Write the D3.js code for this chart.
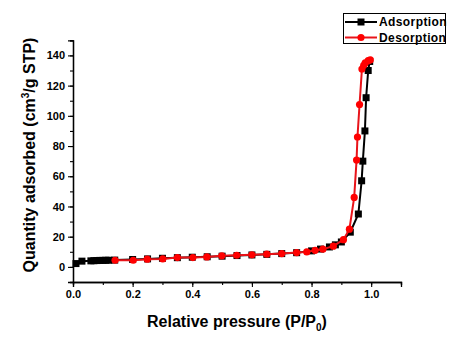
<!DOCTYPE html>
<html><head><meta charset="utf-8">
<script src="https://cdn.jsdelivr.net/npm/d3@7"></script>
<style>body{margin:0;background:#fff}svg{display:block}text{font-family:"Liberation Sans",Arial,sans-serif;font-weight:bold}</style>
</head><body><svg id="c" width="453" height="340"></svg>
<script>
const adsP = [0.010,0.030,0.060,0.070,0.080,0.090,0.100,0.110,0.120,0.140,0.200,0.250,0.300,0.350,0.400,0.450,0.500,0.550,0.600,0.650,0.700,0.750,0.800,0.830,0.860,0.880,0.900,0.930,0.957,0.968,0.972,0.979,0.983,0.990,0.995];
const adsQ = [2.2,3.8,4.0,4.1,4.2,4.3,4.3,4.4,4.4,4.5,4.9,5.3,5.7,6.1,6.4,6.7,7.1,7.5,7.9,8.3,8.8,9.4,10.6,11.8,13.2,14.6,16.5,23,35,57,70,90,112,130,136];
const desP = [0.997,0.990,0.980,0.975,0.969,0.961,0.954,0.951,0.943,0.927,0.907,0.873,0.838,0.812,0.784,0.750,0.700,0.650,0.600,0.549,0.499,0.449,0.402,0.350,0.301,0.249,0.202,0.141];
const desQ = [137,136.5,135,133.5,131,107.5,86,70.7,46,25,18,13.7,11.7,11,9.9,9.5,8.8,8.4,8.0,7.7,7.3,6.6,6.2,6.2,5.3,5.1,4.4,4.4];
const xTicks = [0.0,0.2,0.4,0.6,0.8,1.0];
const yTicks = [0,20,40,60,80,100,120,140];
const seriesNames = ["Adsorption","Desorption"];

const svg = d3.select("#c");
const x = d3.scaleLinear().domain([0,1.1]).range([73,401]);
const y = d3.scaleLinear().domain([-10,150]).range([282,40.3]);

// axes
const xMinor = d3.range(0,1.1001,0.1);
const yMinor = d3.range(-10,150.001,10);
const gx = svg.append("g").attr("transform",`translate(0,${y(-10)})`);
gx.call(d3.axisBottom(x).tickValues(xMinor).tickSize(3).tickFormat(""));
gx.append("g").call(d3.axisBottom(x).tickValues(xTicks).tickSize(5).tickPadding(3).tickFormat(d3.format(".1f")));
const gy = svg.append("g").attr("transform",`translate(${x(0)},0)`);
gy.call(d3.axisLeft(y).tickValues(yMinor).tickSize(3).tickFormat(""));
gy.append("g").call(d3.axisLeft(y).tickValues(yTicks).tickSize(5).tickPadding(3).tickFormat(d3.format("d")));
svg.selectAll(".domain").attr("stroke","#000").attr("stroke-width",1.3);
svg.selectAll(".tick line").attr("stroke","#000").attr("stroke-width",1.1);
svg.selectAll(".tick text").attr("fill","#000").style("font-size","11px").style("font-weight","bold");

// data
const ads = adsP.map((p,i)=>[p,adsQ[i]]);
const des = desP.map((p,i)=>[p,desQ[i]]);
const line = d3.line().x(d=>x(d[0])).y(d=>y(d[1]));
svg.append("path").datum(ads).attr("d",line).attr("fill","none").attr("stroke","#000").attr("stroke-width",2);
svg.append("g").selectAll("rect").data(ads).join("rect")
  .attr("x",d=>x(d[0])-3.5).attr("y",d=>y(d[1])-3.5).attr("width",7).attr("height",7).attr("fill","#000");
svg.append("path").datum(des).attr("d",line).attr("fill","none").attr("stroke","#e8141a").attr("stroke-width",2);
svg.append("g").selectAll("circle").data(des).join("circle")
  .attr("cx",d=>x(d[0])).attr("cy",d=>y(d[1])).attr("r",3.6).attr("fill","#ff0000");

// legend
const lg = svg.append("g");
lg.append("rect").attr("x",343.5).attr("y",13.5).attr("width",102).attr("height",30).attr("fill","#fff").attr("stroke","#000").attr("stroke-width",1);
[0,1].forEach(i=>{
  const yy = 22 + i*15.5;
  const col = i===0?"#000":"#e8141a";
  lg.append("line").attr("x1",345).attr("x2",377).attr("y1",yy).attr("y2",yy).attr("stroke",col).attr("stroke-width",2);
  if(i===0) lg.append("rect").attr("x",357.5).attr("y",yy-3.5).attr("width",7).attr("height",7).attr("fill","#000");
  else lg.append("circle").attr("cx",361).attr("cy",yy).attr("r",3.6).attr("fill","#ff0000");
  lg.append("text").attr("x",379).attr("y",yy+4).style("font-size","12px").style("letter-spacing","0.4px").text(seriesNames[i]);
});

// axis titles
const xt = svg.append("text").attr("x",237).attr("y",327).attr("text-anchor","middle").style("font-size","16px");
xt.append("tspan").text("Relative pressure (P/P");
xt.append("tspan").attr("dy",4).style("font-size","10px").text("0");
xt.append("tspan").attr("dy",-4).text(")");
const yt = svg.append("text").attr("transform","translate(35,155) rotate(-90)").attr("text-anchor","middle").style("font-size","16px");
yt.append("tspan").text("Quantity adsorbed (cm");
yt.append("tspan").attr("dy",-6).style("font-size","10px").text("3");
yt.append("tspan").attr("dy",6).text("/g STP)");
</script></body></html>
